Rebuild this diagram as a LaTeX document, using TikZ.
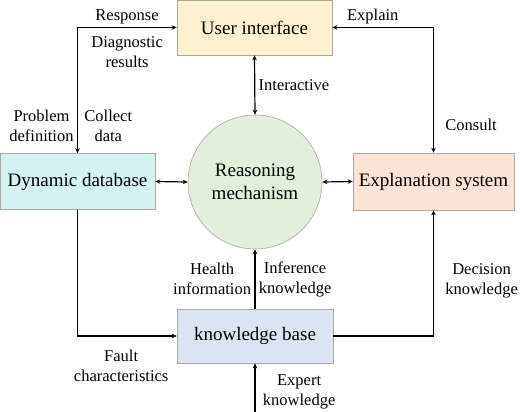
\documentclass[tikz,border=0pt]{standalone}
\usepackage{fontspec}
\setmainfont{Liberation Serif}
\usetikzlibrary{arrows.meta}

\definecolor{uiyellow}{HTML}{FDF1CF}
\definecolor{dbcyan}{HTML}{D5F2F2}
\definecolor{espeach}{HTML}{FBE4D6}
\definecolor{kbblue}{HTML}{DAE4F3}
\definecolor{rmgreen}{HTML}{E2EFDA}
\definecolor{rim}{HTML}{A9A9A0}

\begin{document}
\begin{tikzpicture}%
    [x = 1pt, y = -1pt, line width = 1.2pt,
     >={Stealth[length = 5pt, width = 4.5pt]},
     box/.style = {draw = rim, line width = 0.6pt, minimum height = 55pt,
                   font = \fontsize{19}{23}\selectfont},
     lbl/.style = {font = \fontsize{16.5}{20}\selectfont, align = center}]
    \useasboundingbox (0, 0) rectangle (520, 412);

    \node [box, fill = uiyellow, minimum width = 155pt] (1) at (254.5, 27.5) {User interface};
    \node [box, fill = dbcyan, minimum width = 155pt, minimum height = 56pt] (2) at (77.5, 181.5) {Dynamic database};
    \node [box, fill = espeach, minimum width = 161pt, minimum height = 57pt] (3) at (433.5, 181.5) {Explanation system};
    \node [box, fill = kbblue, minimum width = 156pt, minimum height = 54pt] (4) at (255, 336) {knowledge base};
    \node [box, circle, fill = rmgreen, minimum size = 134pt, inner sep = 0pt, align = center]
        (5) at (255, 182) {Reasoning\\mechanism};
    \coordinate (6) at (255, 412);

    \draw [<->] (1.south) -- (5.north) node [lbl, midway, right] {Interactive};
    \draw [<->] (2.east) -- (5.west);
    \draw [<->] (5.east) -- (3.west);
    \draw [->] (4.north) -- (5.south) node [lbl, midway, left] {Health\\information}
                                      node [lbl, midway, right] {Inference\\knowledge};
    \draw [->] (6) -- (4.south) node [lbl, midway, right, xshift = 4pt, yshift = -4pt] {Expert\\knowledge};

    \draw [<->] (2.north) |- (1.west) node [lbl, pos = 0.75, above] {Response}
                                      node [lbl, pos = 0.75, below, yshift = -5pt] {Diagnostic\\results}
                                      node [lbl, pos = 0.11, left] {Problem\\definition}
                                      node [lbl, pos = 0.11, right, xshift = 3pt] {Collect\\data};
    \draw [<->] (1.east) -| (3.north) node [lbl, pos = 0.2, above] {Explain}
                                      node [lbl, pos = 0.89, right, xshift = 8pt] {Consult};
    \draw [->] (2.south) |- (4.west) node [lbl, pos = 0.72, below, yshift = -10pt] {Fault\\characteristics};
    \draw [->] (4.east) -| (3.south) node [lbl, pos = 0.72, right, xshift = 8pt] {Decision\\knowledge};
\end{tikzpicture}
\end{document}
